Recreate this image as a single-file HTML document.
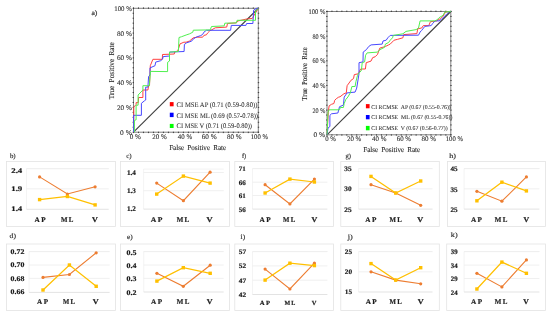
<!DOCTYPE html><html><head><meta charset="utf-8"><style>html,body{margin:0;padding:0;background:#fff;width:550px;height:315px;overflow:hidden}svg{display:block;will-change:transform;filter:blur(0.3px)}text{text-rendering:geometricPrecision}</style></head><body>
<svg width="550" height="315" viewBox="0 0 550 315" font-family='"Liberation Serif", serif' fill="#222">
<rect width="550" height="315" fill="#fff"/>
<rect x="6.4" y="161.4" width="109.00" height="65.00" fill="#fff" stroke="#e3e3e3" stroke-width="0.8"/>
<path d="M26.5,209.1V168.8H108.7" fill="none" stroke="#efefef" stroke-width="0.7"/>
<line x1="26.5" y1="168.6" x2="108.7" y2="168.6" stroke="#ececec" stroke-width="0.8"/>
<line x1="26.5" y1="188.8" x2="108.7" y2="188.8" stroke="#ececec" stroke-width="0.8"/>
<line x1="26.5" y1="209.3" x2="108.7" y2="209.3" stroke="#dcdcdc" stroke-width="0.8"/>
<text transform="translate(11.28,172.65) scale(0.1)" x="0" y="0" font-size="72.0" textLength="109.5" lengthAdjust="spacingAndGlyphs" font-weight="bold" fill="#1a1a1a" stroke="#1a1a1a" stroke-width="1.80">2.4</text>
<text transform="translate(11.28,191.45) scale(0.1)" x="0" y="0" font-size="72.0" textLength="109.5" lengthAdjust="spacingAndGlyphs" font-weight="bold" fill="#1a1a1a" stroke="#1a1a1a" stroke-width="1.80">1.9</text>
<text transform="translate(11.28,210.95) scale(0.1)" x="0" y="0" font-size="72.0" textLength="109.5" lengthAdjust="spacingAndGlyphs" font-weight="bold" fill="#1a1a1a" stroke="#1a1a1a" stroke-width="1.80">1.4</text>
<polyline points="39.6,176.9 67.4,194.0 95.1,186.8" fill="none" stroke="#ed7d31" stroke-width="1.1"/>
<polyline points="39.6,199.6 67.4,196.5 95.1,204.9" fill="none" stroke="#ffc000" stroke-width="1.25"/>
<circle cx="39.6" cy="176.9" r="1.6" fill="#ed7d31"/>
<circle cx="67.4" cy="194" r="1.6" fill="#ed7d31"/>
<circle cx="95.1" cy="186.8" r="1.6" fill="#ed7d31"/>
<rect x="37.9" y="197.9" width="3.4" height="3.4" fill="#ffc000"/>
<rect x="65.7" y="194.8" width="3.4" height="3.4" fill="#ffc000"/>
<rect x="93.4" y="203.2" width="3.4" height="3.4" fill="#ffc000"/>
<text transform="translate(34.48,222.20) scale(0.1)" x="0" y="0" font-size="72.0" textLength="111.5" lengthAdjust="spacingAndGlyphs" font-weight="bold" fill="#1a1a1a" stroke="#1a1a1a" stroke-width="1.80">A&#8201;P</text>
<text transform="translate(60.88,222.20) scale(0.1)" x="0" y="0" font-size="72.0" textLength="124.5" lengthAdjust="spacingAndGlyphs" font-weight="bold" fill="#1a1a1a" stroke="#1a1a1a" stroke-width="1.80">M&#8201;L</text>
<text transform="translate(92.08,222.20) scale(0.1)" x="0" y="0" font-size="72.0" textLength="57.5" lengthAdjust="spacingAndGlyphs" font-weight="bold" fill="#1a1a1a" stroke="#1a1a1a" stroke-width="1.80">V</text>
<text transform="translate(9.89,158.20) scale(0.1)" x="0" y="0" font-size="69.0" textLength="57.2" lengthAdjust="spacingAndGlyphs" fill="#333" stroke="#333" stroke-width="1.80">b)</text>
<rect x="120.4" y="161.4" width="109.10" height="65.00" fill="#fff" stroke="#e3e3e3" stroke-width="0.8"/>
<path d="M143.6,209.1V169.1H223.8" fill="none" stroke="#efefef" stroke-width="0.7"/>
<line x1="143.6" y1="172.5" x2="223.8" y2="172.5" stroke="#ececec" stroke-width="0.8"/>
<line x1="143.6" y1="190.7" x2="223.8" y2="190.7" stroke="#ececec" stroke-width="0.8"/>
<line x1="143.6" y1="209.1" x2="223.8" y2="209.1" stroke="#dcdcdc" stroke-width="0.8"/>
<text transform="translate(126.88,174.85) scale(0.1)" x="0" y="0" font-size="72.0" textLength="88.5" lengthAdjust="spacingAndGlyphs" font-weight="bold" fill="#1a1a1a" stroke="#1a1a1a" stroke-width="1.80">1.4</text>
<text transform="translate(126.88,193.45) scale(0.1)" x="0" y="0" font-size="72.0" textLength="88.5" lengthAdjust="spacingAndGlyphs" font-weight="bold" fill="#1a1a1a" stroke="#1a1a1a" stroke-width="1.80">1.3</text>
<text transform="translate(126.88,211.45) scale(0.1)" x="0" y="0" font-size="72.0" textLength="88.5" lengthAdjust="spacingAndGlyphs" font-weight="bold" fill="#1a1a1a" stroke="#1a1a1a" stroke-width="1.80">1.2</text>
<polyline points="156.7,183.1 183.4,200.7 210.1,172.2" fill="none" stroke="#ed7d31" stroke-width="1.1"/>
<polyline points="156.7,194.1 183.4,176.1 210.1,183.1" fill="none" stroke="#ffc000" stroke-width="1.25"/>
<circle cx="156.7" cy="183.1" r="1.6" fill="#ed7d31"/>
<circle cx="183.4" cy="200.7" r="1.6" fill="#ed7d31"/>
<circle cx="210.1" cy="172.2" r="1.6" fill="#ed7d31"/>
<rect x="155.0" y="192.4" width="3.4" height="3.4" fill="#ffc000"/>
<rect x="181.7" y="174.4" width="3.4" height="3.4" fill="#ffc000"/>
<rect x="208.4" y="181.4" width="3.4" height="3.4" fill="#ffc000"/>
<text transform="translate(150.78,222.20) scale(0.1)" x="0" y="0" font-size="72.0" textLength="117.5" lengthAdjust="spacingAndGlyphs" font-weight="bold" fill="#1a1a1a" stroke="#1a1a1a" stroke-width="1.80">A&#8201;P</text>
<text transform="translate(176.68,222.20) scale(0.1)" x="0" y="0" font-size="72.0" textLength="125.5" lengthAdjust="spacingAndGlyphs" font-weight="bold" fill="#1a1a1a" stroke="#1a1a1a" stroke-width="1.80">M&#8201;L</text>
<text transform="translate(206.48,222.20) scale(0.1)" x="0" y="0" font-size="72.0" textLength="60.5" lengthAdjust="spacingAndGlyphs" font-weight="bold" fill="#1a1a1a" stroke="#1a1a1a" stroke-width="1.80">V</text>
<text transform="translate(126.19,158.30) scale(0.1)" x="0" y="0" font-size="69.0" textLength="54.2" lengthAdjust="spacingAndGlyphs" fill="#333" stroke="#333" stroke-width="1.80">c)</text>
<rect x="234.8" y="161.4" width="98.60" height="65.00" fill="#fff" stroke="#e3e3e3" stroke-width="0.8"/>
<path d="M252.5,209.1V168.6H327.4" fill="none" stroke="#efefef" stroke-width="0.7"/>
<line x1="252.5" y1="168.6" x2="327.4" y2="168.6" stroke="#ececec" stroke-width="0.8"/>
<line x1="252.5" y1="182.2" x2="327.4" y2="182.2" stroke="#ececec" stroke-width="0.8"/>
<line x1="252.5" y1="195.5" x2="327.4" y2="195.5" stroke="#ececec" stroke-width="0.8"/>
<line x1="252.5" y1="209.1" x2="327.4" y2="209.1" stroke="#dcdcdc" stroke-width="0.8"/>
<text transform="translate(238.79,171.45) scale(0.1)" x="0" y="0" font-size="69.0" textLength="70.2" lengthAdjust="spacingAndGlyphs" font-weight="bold" fill="#1a1a1a" stroke="#1a1a1a" stroke-width="1.80">71</text>
<text transform="translate(238.79,185.05) scale(0.1)" x="0" y="0" font-size="69.0" textLength="70.2" lengthAdjust="spacingAndGlyphs" font-weight="bold" fill="#1a1a1a" stroke="#1a1a1a" stroke-width="1.80">66</text>
<text transform="translate(238.79,198.05) scale(0.1)" x="0" y="0" font-size="69.0" textLength="70.2" lengthAdjust="spacingAndGlyphs" font-weight="bold" fill="#1a1a1a" stroke="#1a1a1a" stroke-width="1.80">61</text>
<text transform="translate(238.79,211.55) scale(0.1)" x="0" y="0" font-size="69.0" textLength="70.2" lengthAdjust="spacingAndGlyphs" font-weight="bold" fill="#1a1a1a" stroke="#1a1a1a" stroke-width="1.80">56</text>
<polyline points="265.1,184.7 289.9,203.9 314.4,179.1" fill="none" stroke="#ed7d31" stroke-width="1.1"/>
<polyline points="265.1,193.0 289.9,179.1 314.4,182.0" fill="none" stroke="#ffc000" stroke-width="1.25"/>
<circle cx="265.1" cy="184.7" r="1.6" fill="#ed7d31"/>
<circle cx="289.9" cy="203.9" r="1.6" fill="#ed7d31"/>
<circle cx="314.4" cy="179.1" r="1.6" fill="#ed7d31"/>
<rect x="263.4" y="191.3" width="3.4" height="3.4" fill="#ffc000"/>
<rect x="288.2" y="177.4" width="3.4" height="3.4" fill="#ffc000"/>
<rect x="312.7" y="180.3" width="3.4" height="3.4" fill="#ffc000"/>
<text transform="translate(259.38,222.20) scale(0.1)" x="0" y="0" font-size="72.0" textLength="112.5" lengthAdjust="spacingAndGlyphs" font-weight="bold" fill="#1a1a1a" stroke="#1a1a1a" stroke-width="1.80">A&#8201;P</text>
<text transform="translate(283.08,222.20) scale(0.1)" x="0" y="0" font-size="72.0" textLength="122.5" lengthAdjust="spacingAndGlyphs" font-weight="bold" fill="#1a1a1a" stroke="#1a1a1a" stroke-width="1.80">M&#8201;L</text>
<text transform="translate(311.38,222.20) scale(0.1)" x="0" y="0" font-size="72.0" textLength="57.5" lengthAdjust="spacingAndGlyphs" font-weight="bold" fill="#1a1a1a" stroke="#1a1a1a" stroke-width="1.80">V</text>
<text transform="translate(241.89,158.30) scale(0.1)" x="0" y="0" font-size="69.0" textLength="41.2" lengthAdjust="spacingAndGlyphs" fill="#333" stroke="#333" stroke-width="1.80">f)</text>
<rect x="340.8" y="161.4" width="98.50" height="65.00" fill="#fff" stroke="#e3e3e3" stroke-width="0.8"/>
<path d="M358.6,209.1V168.6H432.5" fill="none" stroke="#efefef" stroke-width="0.7"/>
<line x1="358.6" y1="168.6" x2="432.5" y2="168.6" stroke="#ececec" stroke-width="0.8"/>
<line x1="358.6" y1="188.8" x2="432.5" y2="188.8" stroke="#ececec" stroke-width="0.8"/>
<line x1="358.6" y1="209.1" x2="432.5" y2="209.1" stroke="#dcdcdc" stroke-width="0.8"/>
<text transform="translate(344.29,171.05) scale(0.1)" x="0" y="0" font-size="69.0" textLength="73.2" lengthAdjust="spacingAndGlyphs" font-weight="bold" fill="#1a1a1a" stroke="#1a1a1a" stroke-width="1.80">35</text>
<text transform="translate(344.29,191.45) scale(0.1)" x="0" y="0" font-size="69.0" textLength="73.2" lengthAdjust="spacingAndGlyphs" font-weight="bold" fill="#1a1a1a" stroke="#1a1a1a" stroke-width="1.80">30</text>
<text transform="translate(344.29,211.55) scale(0.1)" x="0" y="0" font-size="69.0" textLength="73.2" lengthAdjust="spacingAndGlyphs" font-weight="bold" fill="#1a1a1a" stroke="#1a1a1a" stroke-width="1.80">25</text>
<polyline points="371.0,184.7 395.7,193.0 420.7,205.3" fill="none" stroke="#ed7d31" stroke-width="1.1"/>
<polyline points="371.0,176.4 395.7,193.0 420.7,181.0" fill="none" stroke="#ffc000" stroke-width="1.25"/>
<circle cx="371" cy="184.7" r="1.6" fill="#ed7d31"/>
<circle cx="395.7" cy="193" r="1.6" fill="#ed7d31"/>
<circle cx="420.7" cy="205.3" r="1.6" fill="#ed7d31"/>
<rect x="369.3" y="174.7" width="3.4" height="3.4" fill="#ffc000"/>
<rect x="394.0" y="191.3" width="3.4" height="3.4" fill="#ffc000"/>
<rect x="419.0" y="179.3" width="3.4" height="3.4" fill="#ffc000"/>
<text transform="translate(365.18,222.20) scale(0.1)" x="0" y="0" font-size="72.0" textLength="111.5" lengthAdjust="spacingAndGlyphs" font-weight="bold" fill="#1a1a1a" stroke="#1a1a1a" stroke-width="1.80">A&#8201;P</text>
<text transform="translate(389.48,222.20) scale(0.1)" x="0" y="0" font-size="72.0" textLength="123.5" lengthAdjust="spacingAndGlyphs" font-weight="bold" fill="#1a1a1a" stroke="#1a1a1a" stroke-width="1.80">M&#8201;L</text>
<text transform="translate(417.18,222.20) scale(0.1)" x="0" y="0" font-size="72.0" textLength="59.5" lengthAdjust="spacingAndGlyphs" font-weight="bold" fill="#1a1a1a" stroke="#1a1a1a" stroke-width="1.80">V</text>
<text transform="translate(345.39,158.00) scale(0.1)" x="0" y="0" font-size="69.0" textLength="54.2" lengthAdjust="spacingAndGlyphs" fill="#333" stroke="#333" stroke-width="1.80">g)</text>
<rect x="447.5" y="161.4" width="97.90" height="65.00" fill="#fff" stroke="#e3e3e3" stroke-width="0.8"/>
<path d="M464.1,209.1V168.6H539.4" fill="none" stroke="#efefef" stroke-width="0.7"/>
<line x1="464.1" y1="168.6" x2="539.4" y2="168.6" stroke="#ececec" stroke-width="0.8"/>
<line x1="464.1" y1="188.8" x2="539.4" y2="188.8" stroke="#ececec" stroke-width="0.8"/>
<line x1="464.1" y1="209.1" x2="539.4" y2="209.1" stroke="#dcdcdc" stroke-width="0.8"/>
<text transform="translate(450.49,171.25) scale(0.1)" x="0" y="0" font-size="69.0" textLength="72.2" lengthAdjust="spacingAndGlyphs" font-weight="bold" fill="#1a1a1a" stroke="#1a1a1a" stroke-width="1.80">45</text>
<text transform="translate(450.49,191.65) scale(0.1)" x="0" y="0" font-size="69.0" textLength="72.2" lengthAdjust="spacingAndGlyphs" font-weight="bold" fill="#1a1a1a" stroke="#1a1a1a" stroke-width="1.80">35</text>
<text transform="translate(450.49,211.75) scale(0.1)" x="0" y="0" font-size="69.0" textLength="72.2" lengthAdjust="spacingAndGlyphs" font-weight="bold" fill="#1a1a1a" stroke="#1a1a1a" stroke-width="1.80">25</text>
<polyline points="476.9,191.3 501.9,201.2 526.4,176.9" fill="none" stroke="#ed7d31" stroke-width="1.1"/>
<polyline points="476.9,200.8 501.9,182.2 526.4,190.9" fill="none" stroke="#ffc000" stroke-width="1.25"/>
<circle cx="476.9" cy="191.3" r="1.6" fill="#ed7d31"/>
<circle cx="501.9" cy="201.2" r="1.6" fill="#ed7d31"/>
<circle cx="526.4" cy="176.9" r="1.6" fill="#ed7d31"/>
<rect x="475.2" y="199.1" width="3.4" height="3.4" fill="#ffc000"/>
<rect x="500.2" y="180.5" width="3.4" height="3.4" fill="#ffc000"/>
<rect x="524.7" y="189.2" width="3.4" height="3.4" fill="#ffc000"/>
<text transform="translate(470.88,222.20) scale(0.1)" x="0" y="0" font-size="72.0" textLength="111.5" lengthAdjust="spacingAndGlyphs" font-weight="bold" fill="#1a1a1a" stroke="#1a1a1a" stroke-width="1.80">A&#8201;P</text>
<text transform="translate(494.78,222.20) scale(0.1)" x="0" y="0" font-size="72.0" textLength="125.5" lengthAdjust="spacingAndGlyphs" font-weight="bold" fill="#1a1a1a" stroke="#1a1a1a" stroke-width="1.80">M&#8201;L</text>
<text transform="translate(523.38,222.20) scale(0.1)" x="0" y="0" font-size="72.0" textLength="56.5" lengthAdjust="spacingAndGlyphs" font-weight="bold" fill="#1a1a1a" stroke="#1a1a1a" stroke-width="1.80">V</text>
<text transform="translate(449.19,157.80) scale(0.1)" x="0" y="0" font-size="69.0" textLength="68.2" lengthAdjust="spacingAndGlyphs" fill="#333" stroke="#333" stroke-width="1.80">h)</text>
<rect x="6.4" y="244" width="109.00" height="66.40" fill="#fff" stroke="#e3e3e3" stroke-width="0.8"/>
<path d="M29.1,292.4V251.6H109.6" fill="none" stroke="#efefef" stroke-width="0.7"/>
<line x1="29.1" y1="251.6" x2="109.6" y2="251.6" stroke="#ececec" stroke-width="0.8"/>
<line x1="29.1" y1="265" x2="109.6" y2="265" stroke="#ececec" stroke-width="0.8"/>
<line x1="29.1" y1="278.4" x2="109.6" y2="278.4" stroke="#ececec" stroke-width="0.8"/>
<line x1="29.1" y1="292.4" x2="109.6" y2="292.4" stroke="#dcdcdc" stroke-width="0.8"/>
<text transform="translate(10.58,254.35) scale(0.1)" x="0" y="0" font-size="72.0" textLength="137.5" lengthAdjust="spacingAndGlyphs" font-weight="bold" fill="#1a1a1a" stroke="#1a1a1a" stroke-width="1.80">0.72</text>
<text transform="translate(10.58,267.35) scale(0.1)" x="0" y="0" font-size="72.0" textLength="137.5" lengthAdjust="spacingAndGlyphs" font-weight="bold" fill="#1a1a1a" stroke="#1a1a1a" stroke-width="1.80">0.70</text>
<text transform="translate(10.58,280.95) scale(0.1)" x="0" y="0" font-size="72.0" textLength="137.5" lengthAdjust="spacingAndGlyphs" font-weight="bold" fill="#1a1a1a" stroke="#1a1a1a" stroke-width="1.80">0.68</text>
<text transform="translate(10.58,294.35) scale(0.1)" x="0" y="0" font-size="72.0" textLength="137.5" lengthAdjust="spacingAndGlyphs" font-weight="bold" fill="#1a1a1a" stroke="#1a1a1a" stroke-width="1.80">0.66</text>
<polyline points="43.0,277.4 69.4,274.5 96.2,252.8" fill="none" stroke="#ed7d31" stroke-width="1.1"/>
<polyline points="43.0,290.0 69.4,265.0 96.2,286.3" fill="none" stroke="#ffc000" stroke-width="1.25"/>
<circle cx="43" cy="277.4" r="1.6" fill="#ed7d31"/>
<circle cx="69.4" cy="274.5" r="1.6" fill="#ed7d31"/>
<circle cx="96.2" cy="252.8" r="1.6" fill="#ed7d31"/>
<rect x="41.3" y="288.3" width="3.4" height="3.4" fill="#ffc000"/>
<rect x="67.7" y="263.3" width="3.4" height="3.4" fill="#ffc000"/>
<rect x="94.5" y="284.6" width="3.4" height="3.4" fill="#ffc000"/>
<text transform="translate(37.08,304.20) scale(0.1)" x="0" y="0" font-size="72.0" textLength="109.5" lengthAdjust="spacingAndGlyphs" font-weight="bold" fill="#1a1a1a" stroke="#1a1a1a" stroke-width="1.80">A&#8201;P</text>
<text transform="translate(62.88,304.20) scale(0.1)" x="0" y="0" font-size="72.0" textLength="119.5" lengthAdjust="spacingAndGlyphs" font-weight="bold" fill="#1a1a1a" stroke="#1a1a1a" stroke-width="1.80">M&#8201;L</text>
<text transform="translate(92.78,304.20) scale(0.1)" x="0" y="0" font-size="72.0" textLength="58.5" lengthAdjust="spacingAndGlyphs" font-weight="bold" fill="#1a1a1a" stroke="#1a1a1a" stroke-width="1.80">V</text>
<text transform="translate(9.59,237.80) scale(0.1)" x="0" y="0" font-size="69.0" textLength="64.2" lengthAdjust="spacingAndGlyphs" fill="#333" stroke="#333" stroke-width="1.80">d)</text>
<rect x="120.4" y="244" width="109.10" height="66.40" fill="#fff" stroke="#e3e3e3" stroke-width="0.8"/>
<path d="M143.7,292V251.6H223.6" fill="none" stroke="#efefef" stroke-width="0.7"/>
<line x1="143.7" y1="251.6" x2="223.6" y2="251.6" stroke="#ececec" stroke-width="0.8"/>
<line x1="143.7" y1="265" x2="223.6" y2="265" stroke="#ececec" stroke-width="0.8"/>
<line x1="143.7" y1="278.4" x2="223.6" y2="278.4" stroke="#ececec" stroke-width="0.8"/>
<line x1="143.7" y1="292" x2="223.6" y2="292" stroke="#dcdcdc" stroke-width="0.8"/>
<text transform="translate(126.58,254.55) scale(0.1)" x="0" y="0" font-size="72.0" textLength="99.5" lengthAdjust="spacingAndGlyphs" font-weight="bold" fill="#1a1a1a" stroke="#1a1a1a" stroke-width="1.80">0.5</text>
<text transform="translate(126.58,267.75) scale(0.1)" x="0" y="0" font-size="72.0" textLength="99.5" lengthAdjust="spacingAndGlyphs" font-weight="bold" fill="#1a1a1a" stroke="#1a1a1a" stroke-width="1.80">0.4</text>
<text transform="translate(126.58,281.15) scale(0.1)" x="0" y="0" font-size="72.0" textLength="99.5" lengthAdjust="spacingAndGlyphs" font-weight="bold" fill="#1a1a1a" stroke="#1a1a1a" stroke-width="1.80">0.3</text>
<text transform="translate(126.58,294.85) scale(0.1)" x="0" y="0" font-size="72.0" textLength="99.5" lengthAdjust="spacingAndGlyphs" font-weight="bold" fill="#1a1a1a" stroke="#1a1a1a" stroke-width="1.80">0.2</text>
<polyline points="156.9,273.3 183.3,286.3 210.2,265.2" fill="none" stroke="#ed7d31" stroke-width="1.1"/>
<polyline points="156.9,281.1 183.3,267.7 210.2,273.3" fill="none" stroke="#ffc000" stroke-width="1.25"/>
<circle cx="156.9" cy="273.3" r="1.6" fill="#ed7d31"/>
<circle cx="183.3" cy="286.3" r="1.6" fill="#ed7d31"/>
<circle cx="210.2" cy="265.2" r="1.6" fill="#ed7d31"/>
<rect x="155.2" y="279.4" width="3.4" height="3.4" fill="#ffc000"/>
<rect x="181.6" y="266.0" width="3.4" height="3.4" fill="#ffc000"/>
<rect x="208.5" y="271.6" width="3.4" height="3.4" fill="#ffc000"/>
<text transform="translate(150.98,304.20) scale(0.1)" x="0" y="0" font-size="72.0" textLength="110.5" lengthAdjust="spacingAndGlyphs" font-weight="bold" fill="#1a1a1a" stroke="#1a1a1a" stroke-width="1.80">A&#8201;P</text>
<text transform="translate(176.78,304.20) scale(0.1)" x="0" y="0" font-size="72.0" textLength="126.5" lengthAdjust="spacingAndGlyphs" font-weight="bold" fill="#1a1a1a" stroke="#1a1a1a" stroke-width="1.80">M&#8201;L</text>
<text transform="translate(206.78,304.20) scale(0.1)" x="0" y="0" font-size="72.0" textLength="57.5" lengthAdjust="spacingAndGlyphs" font-weight="bold" fill="#1a1a1a" stroke="#1a1a1a" stroke-width="1.80">V</text>
<text transform="translate(126.99,238.60) scale(0.1)" x="0" y="0" font-size="69.0" textLength="57.2" lengthAdjust="spacingAndGlyphs" fill="#333" stroke="#333" stroke-width="1.80">e)</text>
<rect x="234.8" y="244" width="98.60" height="66.40" fill="#fff" stroke="#e3e3e3" stroke-width="0.8"/>
<path d="M252.5,294.5V251.6H327.4" fill="none" stroke="#efefef" stroke-width="0.7"/>
<line x1="252.5" y1="251.6" x2="327.4" y2="251.6" stroke="#ececec" stroke-width="0.8"/>
<line x1="252.5" y1="265.9" x2="327.4" y2="265.9" stroke="#ececec" stroke-width="0.8"/>
<line x1="252.5" y1="280.2" x2="327.4" y2="280.2" stroke="#ececec" stroke-width="0.8"/>
<line x1="252.5" y1="294.5" x2="327.4" y2="294.5" stroke="#dcdcdc" stroke-width="0.8"/>
<text transform="translate(238.79,253.75) scale(0.1)" x="0" y="0" font-size="69.0" textLength="73.2" lengthAdjust="spacingAndGlyphs" font-weight="bold" fill="#1a1a1a" stroke="#1a1a1a" stroke-width="1.80">57</text>
<text transform="translate(238.79,268.25) scale(0.1)" x="0" y="0" font-size="69.0" textLength="73.2" lengthAdjust="spacingAndGlyphs" font-weight="bold" fill="#1a1a1a" stroke="#1a1a1a" stroke-width="1.80">52</text>
<text transform="translate(238.79,282.65) scale(0.1)" x="0" y="0" font-size="69.0" textLength="73.2" lengthAdjust="spacingAndGlyphs" font-weight="bold" fill="#1a1a1a" stroke="#1a1a1a" stroke-width="1.80">47</text>
<text transform="translate(238.79,296.65) scale(0.1)" x="0" y="0" font-size="69.0" textLength="73.2" lengthAdjust="spacingAndGlyphs" font-weight="bold" fill="#1a1a1a" stroke="#1a1a1a" stroke-width="1.80">42</text>
<polyline points="265.1,269.1 289.9,289.0 314.4,263.2" fill="none" stroke="#ed7d31" stroke-width="1.1"/>
<polyline points="265.1,280.1 289.9,263.2 314.4,265.6" fill="none" stroke="#ffc000" stroke-width="1.25"/>
<circle cx="265.1" cy="269.1" r="1.6" fill="#ed7d31"/>
<circle cx="289.9" cy="289" r="1.6" fill="#ed7d31"/>
<circle cx="314.4" cy="263.2" r="1.6" fill="#ed7d31"/>
<rect x="263.4" y="278.4" width="3.4" height="3.4" fill="#ffc000"/>
<rect x="288.2" y="261.5" width="3.4" height="3.4" fill="#ffc000"/>
<rect x="312.7" y="263.9" width="3.4" height="3.4" fill="#ffc000"/>
<text transform="translate(259.72,305.20) scale(0.1)" x="0" y="0" font-size="63.0" textLength="102.7" lengthAdjust="spacingAndGlyphs" font-weight="bold" fill="#1a1a1a" stroke="#1a1a1a" stroke-width="1.80">A&#8201;P</text>
<text transform="translate(284.42,305.20) scale(0.1)" x="0" y="0" font-size="63.0" textLength="108.7" lengthAdjust="spacingAndGlyphs" font-weight="bold" fill="#1a1a1a" stroke="#1a1a1a" stroke-width="1.80">M&#8201;L</text>
<text transform="translate(311.72,305.20) scale(0.1)" x="0" y="0" font-size="63.0" textLength="46.7" lengthAdjust="spacingAndGlyphs" font-weight="bold" fill="#1a1a1a" stroke="#1a1a1a" stroke-width="1.80">V</text>
<text transform="translate(240.59,238.80) scale(0.1)" x="0" y="0" font-size="69.0" textLength="46.2" lengthAdjust="spacingAndGlyphs" fill="#333" stroke="#333" stroke-width="1.80">i)</text>
<rect x="340.8" y="244" width="98.50" height="66.40" fill="#fff" stroke="#e3e3e3" stroke-width="0.8"/>
<path d="M358.6,292V251.6H432.5" fill="none" stroke="#efefef" stroke-width="0.7"/>
<line x1="358.6" y1="251.6" x2="432.5" y2="251.6" stroke="#ececec" stroke-width="0.8"/>
<line x1="358.6" y1="271.8" x2="432.5" y2="271.8" stroke="#ececec" stroke-width="0.8"/>
<line x1="358.6" y1="292" x2="432.5" y2="292" stroke="#dcdcdc" stroke-width="0.8"/>
<text transform="translate(344.79,253.75) scale(0.1)" x="0" y="0" font-size="69.0" textLength="73.2" lengthAdjust="spacingAndGlyphs" font-weight="bold" fill="#1a1a1a" stroke="#1a1a1a" stroke-width="1.80">25</text>
<text transform="translate(344.79,273.75) scale(0.1)" x="0" y="0" font-size="69.0" textLength="73.2" lengthAdjust="spacingAndGlyphs" font-weight="bold" fill="#1a1a1a" stroke="#1a1a1a" stroke-width="1.80">20</text>
<text transform="translate(344.79,294.45) scale(0.1)" x="0" y="0" font-size="69.0" textLength="73.2" lengthAdjust="spacingAndGlyphs" font-weight="bold" fill="#1a1a1a" stroke="#1a1a1a" stroke-width="1.80">15</text>
<polyline points="371.0,271.8 395.7,280.1 420.7,283.8" fill="none" stroke="#ed7d31" stroke-width="1.1"/>
<polyline points="371.0,263.6 395.7,280.1 420.7,267.7" fill="none" stroke="#ffc000" stroke-width="1.25"/>
<circle cx="371" cy="271.8" r="1.6" fill="#ed7d31"/>
<circle cx="395.7" cy="280.1" r="1.6" fill="#ed7d31"/>
<circle cx="420.7" cy="283.8" r="1.6" fill="#ed7d31"/>
<rect x="369.3" y="261.9" width="3.4" height="3.4" fill="#ffc000"/>
<rect x="394.0" y="278.4" width="3.4" height="3.4" fill="#ffc000"/>
<rect x="419.0" y="266.0" width="3.4" height="3.4" fill="#ffc000"/>
<text transform="translate(365.68,304.20) scale(0.1)" x="0" y="0" font-size="72.0" textLength="110.5" lengthAdjust="spacingAndGlyphs" font-weight="bold" fill="#1a1a1a" stroke="#1a1a1a" stroke-width="1.80">A&#8201;P</text>
<text transform="translate(389.48,304.20) scale(0.1)" x="0" y="0" font-size="72.0" textLength="123.5" lengthAdjust="spacingAndGlyphs" font-weight="bold" fill="#1a1a1a" stroke="#1a1a1a" stroke-width="1.80">M&#8201;L</text>
<text transform="translate(417.68,304.20) scale(0.1)" x="0" y="0" font-size="72.0" textLength="58.5" lengthAdjust="spacingAndGlyphs" font-weight="bold" fill="#1a1a1a" stroke="#1a1a1a" stroke-width="1.80">V</text>
<text transform="translate(347.69,238.60) scale(0.1)" x="0" y="0" font-size="69.0" textLength="50.2" lengthAdjust="spacingAndGlyphs" fill="#333" stroke="#333" stroke-width="1.80">j)</text>
<rect x="446.7" y="244" width="98.70" height="66.40" fill="#fff" stroke="#e3e3e3" stroke-width="0.8"/>
<path d="M464.1,292V251.6H539.4" fill="none" stroke="#efefef" stroke-width="0.7"/>
<line x1="464.1" y1="251.6" x2="539.4" y2="251.6" stroke="#ececec" stroke-width="0.8"/>
<line x1="464.1" y1="265.1" x2="539.4" y2="265.1" stroke="#ececec" stroke-width="0.8"/>
<line x1="464.1" y1="278.5" x2="539.4" y2="278.5" stroke="#ececec" stroke-width="0.8"/>
<line x1="464.1" y1="292" x2="539.4" y2="292" stroke="#dcdcdc" stroke-width="0.8"/>
<text transform="translate(450.79,253.75) scale(0.1)" x="0" y="0" font-size="69.0" textLength="68.2" lengthAdjust="spacingAndGlyphs" font-weight="bold" fill="#1a1a1a" stroke="#1a1a1a" stroke-width="1.80">39</text>
<text transform="translate(450.79,267.75) scale(0.1)" x="0" y="0" font-size="69.0" textLength="68.2" lengthAdjust="spacingAndGlyphs" font-weight="bold" fill="#1a1a1a" stroke="#1a1a1a" stroke-width="1.80">34</text>
<text transform="translate(450.79,281.15) scale(0.1)" x="0" y="0" font-size="69.0" textLength="68.2" lengthAdjust="spacingAndGlyphs" font-weight="bold" fill="#1a1a1a" stroke="#1a1a1a" stroke-width="1.80">29</text>
<text transform="translate(450.79,294.85) scale(0.1)" x="0" y="0" font-size="69.0" textLength="68.2" lengthAdjust="spacingAndGlyphs" font-weight="bold" fill="#1a1a1a" stroke="#1a1a1a" stroke-width="1.80">24</text>
<polyline points="476.9,273.3 501.9,286.9 526.4,259.9" fill="none" stroke="#ed7d31" stroke-width="1.1"/>
<polyline points="476.9,289.0 501.9,262.1 526.4,273.3" fill="none" stroke="#ffc000" stroke-width="1.25"/>
<circle cx="476.9" cy="273.3" r="1.6" fill="#ed7d31"/>
<circle cx="501.9" cy="286.9" r="1.6" fill="#ed7d31"/>
<circle cx="526.4" cy="259.9" r="1.6" fill="#ed7d31"/>
<rect x="475.2" y="287.3" width="3.4" height="3.4" fill="#ffc000"/>
<rect x="500.2" y="260.4" width="3.4" height="3.4" fill="#ffc000"/>
<rect x="524.7" y="271.6" width="3.4" height="3.4" fill="#ffc000"/>
<text transform="translate(470.98,304.20) scale(0.1)" x="0" y="0" font-size="72.0" textLength="110.5" lengthAdjust="spacingAndGlyphs" font-weight="bold" fill="#1a1a1a" stroke="#1a1a1a" stroke-width="1.80">A&#8201;P</text>
<text transform="translate(494.78,304.20) scale(0.1)" x="0" y="0" font-size="72.0" textLength="125.5" lengthAdjust="spacingAndGlyphs" font-weight="bold" fill="#1a1a1a" stroke="#1a1a1a" stroke-width="1.80">M&#8201;L</text>
<text transform="translate(523.28,304.20) scale(0.1)" x="0" y="0" font-size="72.0" textLength="55.5" lengthAdjust="spacingAndGlyphs" font-weight="bold" fill="#1a1a1a" stroke="#1a1a1a" stroke-width="1.80">V</text>
<text transform="translate(450.79,237.00) scale(0.1)" x="0" y="0" font-size="69.0" textLength="68.2" lengthAdjust="spacingAndGlyphs" fill="#333" stroke="#333" stroke-width="1.80">k)</text>
<rect x="133.5" y="8.3" width="124.80" height="123.90" fill="none" stroke="#808080" stroke-width="1"/>
<path d="M133.50,7.40v1.4M133.50,131.70v1.4M132.60,132.20h1.4M257.80,132.20h1.4M138.49,7.40v1.4M138.49,131.70v1.4M132.60,127.24h1.4M257.80,127.24h1.4M143.48,7.40v1.4M143.48,131.70v1.4M132.60,122.29h1.4M257.80,122.29h1.4M148.48,7.40v1.4M148.48,131.70v1.4M132.60,117.33h1.4M257.80,117.33h1.4M153.47,7.40v1.4M153.47,131.70v1.4M132.60,112.38h1.4M257.80,112.38h1.4M158.46,7.40v1.4M158.46,131.70v1.4M132.60,107.42h1.4M257.80,107.42h1.4M163.45,7.40v1.4M163.45,131.70v1.4M132.60,102.46h1.4M257.80,102.46h1.4M168.44,7.40v1.4M168.44,131.70v1.4M132.60,97.51h1.4M257.80,97.51h1.4M173.44,7.40v1.4M173.44,131.70v1.4M132.60,92.55h1.4M257.80,92.55h1.4M178.43,7.40v1.4M178.43,131.70v1.4M132.60,87.60h1.4M257.80,87.60h1.4M183.42,7.40v1.4M183.42,131.70v1.4M132.60,82.64h1.4M257.80,82.64h1.4M188.41,7.40v1.4M188.41,131.70v1.4M132.60,77.68h1.4M257.80,77.68h1.4M193.40,7.40v1.4M193.40,131.70v1.4M132.60,72.73h1.4M257.80,72.73h1.4M198.40,7.40v1.4M198.40,131.70v1.4M132.60,67.77h1.4M257.80,67.77h1.4M203.39,7.40v1.4M203.39,131.70v1.4M132.60,62.82h1.4M257.80,62.82h1.4M208.38,7.40v1.4M208.38,131.70v1.4M132.60,57.86h1.4M257.80,57.86h1.4M213.37,7.40v1.4M213.37,131.70v1.4M132.60,52.90h1.4M257.80,52.90h1.4M218.36,7.40v1.4M218.36,131.70v1.4M132.60,47.95h1.4M257.80,47.95h1.4M223.36,7.40v1.4M223.36,131.70v1.4M132.60,42.99h1.4M257.80,42.99h1.4M228.35,7.40v1.4M228.35,131.70v1.4M132.60,38.04h1.4M257.80,38.04h1.4M233.34,7.40v1.4M233.34,131.70v1.4M132.60,33.08h1.4M257.80,33.08h1.4M238.33,7.40v1.4M238.33,131.70v1.4M132.60,28.12h1.4M257.80,28.12h1.4M243.32,7.40v1.4M243.32,131.70v1.4M132.60,23.17h1.4M257.80,23.17h1.4M248.32,7.40v1.4M248.32,131.70v1.4M132.60,18.21h1.4M257.80,18.21h1.4M253.31,7.40v1.4M253.31,131.70v1.4M132.60,13.26h1.4M257.80,13.26h1.4M258.30,7.40v1.4M258.30,131.70v1.4M132.60,8.30h1.4M257.80,8.30h1.4" stroke="#333" stroke-width="0.9" fill="none"/>
<line x1="133.5" y1="132.2" x2="258.3" y2="8.3" stroke="#404040" stroke-width="1.15"/>
<polyline points="133.6,132.2 133.8,117.9 133.8,107.0 136.1,104.5 136.1,102.6 138.3,102.6 138.6,97.5 142.9,97.5 142.9,90.0 147.9,90.0 148.6,85.7 149.5,85.7 150.3,65.7 152.9,59.3 162.3,59.3 162.5,54.5 174.3,54.0 174.6,52.1 177.8,50.9 180.0,43.9 183.9,42.2 186.1,42.2 189.4,41.1 193.3,37.8 197.2,37.2 202.6,37.2 203.9,35.4 206.4,34.8 207.7,32.9 209.6,31.0 215.3,27.8 226.7,27.1 227.5,23.5 236.4,22.9 237.7,21.0 246.6,19.0 252.3,18.4 254.2,15.2 258.3,8.3" fill="none" stroke="#ff4040" stroke-width="1"/>
<polyline points="133.6,132.2 133.6,115.3 141.4,115.3 141.4,103.3 144.6,100.7 145.7,100.0 145.7,87.1 147.9,87.1 148.6,76.4 150.0,75.0 150.0,67.9 155.0,65.7 155.7,62.1 160.7,60.7 162.5,59.1 163.2,56.6 169.5,56.0 169.5,52.1 184.1,51.5 184.4,44.4 186.7,42.8 191.7,41.1 192.8,39.4 196.1,37.2 200.6,35.6 202.6,34.5 203.9,32.2 206.4,30.3 230.6,30.3 231.3,25.4 245.9,25.4 246.6,23.5 252.9,23.5 253.6,10.2 256.7,8.3 258.3,8.3" fill="none" stroke="#4848ff" stroke-width="1"/>
<polyline points="134.4,132.2 134.4,120.4 136.1,119.8 136.1,105.2 138.1,105.2 138.1,95.0 142.9,90.0 142.9,85.7 149.3,85.7 150.5,71.4 167.6,71.6 167.6,62.3 169.5,61.0 169.5,52.1 178.4,51.5 179.0,37.5 181.6,36.7 186.1,35.0 189.4,33.9 192.8,32.2 193.3,30.2 210.2,29.9 211.5,26.5 224.2,25.9 224.8,23.2 236.4,22.9 237.1,20.3 255.5,20.3 255.5,11.4 257.4,9.5 258.3,8.3" fill="none" stroke="#50f050" stroke-width="1"/>
<text transform="translate(120.08,134.70) scale(0.1)" x="0" y="0" font-size="70.0" textLength="118.3" lengthAdjust="spacingAndGlyphs" fill="#333" stroke="#333" stroke-width="1.20">0 %</text>
<text transform="translate(116.88,109.92) scale(0.1)" x="0" y="0" font-size="70.0" textLength="150.3" lengthAdjust="spacingAndGlyphs" fill="#333" stroke="#333" stroke-width="1.20">20 %</text>
<text transform="translate(116.88,85.14) scale(0.1)" x="0" y="0" font-size="70.0" textLength="150.3" lengthAdjust="spacingAndGlyphs" fill="#333" stroke="#333" stroke-width="1.20">40 %</text>
<text transform="translate(116.88,60.36) scale(0.1)" x="0" y="0" font-size="70.0" textLength="150.3" lengthAdjust="spacingAndGlyphs" fill="#333" stroke="#333" stroke-width="1.20">60 %</text>
<text transform="translate(116.88,35.58) scale(0.1)" x="0" y="0" font-size="70.0" textLength="150.3" lengthAdjust="spacingAndGlyphs" fill="#333" stroke="#333" stroke-width="1.20">80 %</text>
<text transform="translate(114.28,10.80) scale(0.1)" x="0" y="0" font-size="70.0" textLength="176.3" lengthAdjust="spacingAndGlyphs" fill="#333" stroke="#333" stroke-width="1.20">100 %</text>
<text transform="translate(129.78,139.30) scale(0.1)" x="0" y="0" font-size="70.0" textLength="112.3" lengthAdjust="spacingAndGlyphs" fill="#333" stroke="#333" stroke-width="1.20">0 %</text>
<text transform="translate(152.28,139.30) scale(0.1)" x="0" y="0" font-size="70.0" textLength="145.3" lengthAdjust="spacingAndGlyphs" fill="#333" stroke="#333" stroke-width="1.20">20 %</text>
<text transform="translate(177.78,139.30) scale(0.1)" x="0" y="0" font-size="70.0" textLength="144.3" lengthAdjust="spacingAndGlyphs" fill="#333" stroke="#333" stroke-width="1.20">40 %</text>
<text transform="translate(201.69,139.30) scale(0.1)" x="0" y="0" font-size="70.0" textLength="151.3" lengthAdjust="spacingAndGlyphs" fill="#333" stroke="#333" stroke-width="1.20">60 %</text>
<text transform="translate(226.99,139.30) scale(0.1)" x="0" y="0" font-size="70.0" textLength="146.3" lengthAdjust="spacingAndGlyphs" fill="#333" stroke="#333" stroke-width="1.20">80 %</text>
<text transform="translate(250.69,139.30) scale(0.1)" x="0" y="0" font-size="70.0" textLength="173.3" lengthAdjust="spacingAndGlyphs" fill="#333" stroke="#333" stroke-width="1.20">100 %</text>
<text transform="translate(169.16,149.90) scale(0.1)" x="0" y="0" font-size="76.0" textLength="569.8" lengthAdjust="spacingAndGlyphs" fill="#2a2a2a" stroke="#2a2a2a" stroke-width="1.20">False&#8201; Positive&#8201; Rate</text>
<text transform="translate(114.00,99.20) rotate(-90) scale(0.1)" x="0" y="0" fill="#2a2a2a" stroke="#2a2a2a" stroke-width="1.20" font-size="76.0" textLength="570.0" lengthAdjust="spacingAndGlyphs">True&#8201; Positive&#8201; Rate</text>
<rect x="169.8" y="102.1" width="3.80" height="4.20" fill="#ff0000"/>
<rect x="169.8" y="112.7" width="3.80" height="4.40" fill="#0000ff"/>
<rect x="169.8" y="123.9" width="3.80" height="4.10" fill="#00ff00"/>
<text transform="translate(176.59,106.70) scale(0.1)" x="0" y="0" font-size="70.0" textLength="808.3" lengthAdjust="spacingAndGlyphs" fill="#2a2a2a" stroke="#2a2a2a" stroke-width="0.60">CI MSE AP (0.71 (0.59-0.80))</text>
<text transform="translate(176.59,117.50) scale(0.1)" x="0" y="0" font-size="70.0" textLength="814.3" lengthAdjust="spacingAndGlyphs" fill="#2a2a2a" stroke="#2a2a2a" stroke-width="0.60">CI MSE ML (0.69 (0.57-0.78))</text>
<text transform="translate(176.59,127.80) scale(0.1)" x="0" y="0" font-size="70.0" textLength="754.3" lengthAdjust="spacingAndGlyphs" fill="#2a2a2a" stroke="#2a2a2a" stroke-width="0.60">CI MSE V (0.71 (0.59-0.80))</text>
<text transform="translate(91.39,15.00) scale(0.1)" x="0" y="0" font-size="68.0" textLength="60.1" lengthAdjust="spacingAndGlyphs" fill="#333" stroke="#333" stroke-width="1.80">a)</text>
<rect x="327" y="11.5" width="123.80" height="123.30" fill="none" stroke="#808080" stroke-width="1"/>
<path d="M327.00,10.60v1.4M327.00,134.30v1.4M326.10,134.80h1.4M450.30,134.80h1.4M331.95,10.60v1.4M331.95,134.30v1.4M326.10,129.87h1.4M450.30,129.87h1.4M336.90,10.60v1.4M336.90,134.30v1.4M326.10,124.94h1.4M450.30,124.94h1.4M341.86,10.60v1.4M341.86,134.30v1.4M326.10,120.00h1.4M450.30,120.00h1.4M346.81,10.60v1.4M346.81,134.30v1.4M326.10,115.07h1.4M450.30,115.07h1.4M351.76,10.60v1.4M351.76,134.30v1.4M326.10,110.14h1.4M450.30,110.14h1.4M356.71,10.60v1.4M356.71,134.30v1.4M326.10,105.21h1.4M450.30,105.21h1.4M361.66,10.60v1.4M361.66,134.30v1.4M326.10,100.28h1.4M450.30,100.28h1.4M366.62,10.60v1.4M366.62,134.30v1.4M326.10,95.34h1.4M450.30,95.34h1.4M371.57,10.60v1.4M371.57,134.30v1.4M326.10,90.41h1.4M450.30,90.41h1.4M376.52,10.60v1.4M376.52,134.30v1.4M326.10,85.48h1.4M450.30,85.48h1.4M381.47,10.60v1.4M381.47,134.30v1.4M326.10,80.55h1.4M450.30,80.55h1.4M386.42,10.60v1.4M386.42,134.30v1.4M326.10,75.62h1.4M450.30,75.62h1.4M391.38,10.60v1.4M391.38,134.30v1.4M326.10,70.68h1.4M450.30,70.68h1.4M396.33,10.60v1.4M396.33,134.30v1.4M326.10,65.75h1.4M450.30,65.75h1.4M401.28,10.60v1.4M401.28,134.30v1.4M326.10,60.82h1.4M450.30,60.82h1.4M406.23,10.60v1.4M406.23,134.30v1.4M326.10,55.89h1.4M450.30,55.89h1.4M411.18,10.60v1.4M411.18,134.30v1.4M326.10,50.96h1.4M450.30,50.96h1.4M416.14,10.60v1.4M416.14,134.30v1.4M326.10,46.02h1.4M450.30,46.02h1.4M421.09,10.60v1.4M421.09,134.30v1.4M326.10,41.09h1.4M450.30,41.09h1.4M426.04,10.60v1.4M426.04,134.30v1.4M326.10,36.16h1.4M450.30,36.16h1.4M430.99,10.60v1.4M430.99,134.30v1.4M326.10,31.23h1.4M450.30,31.23h1.4M435.94,10.60v1.4M435.94,134.30v1.4M326.10,26.30h1.4M450.30,26.30h1.4M440.90,10.60v1.4M440.90,134.30v1.4M326.10,21.36h1.4M450.30,21.36h1.4M445.85,10.60v1.4M445.85,134.30v1.4M326.10,16.43h1.4M450.30,16.43h1.4M450.80,10.60v1.4M450.80,134.30v1.4M326.10,11.50h1.4M450.30,11.50h1.4" stroke="#333" stroke-width="0.9" fill="none"/>
<line x1="327" y1="134.8" x2="450.8" y2="11.5" stroke="#404040" stroke-width="1.15"/>
<polyline points="327.0,134.8 328.3,112.2 329.1,105.9 331.5,104.3 333.9,103.5 334.7,100.3 336.3,98.7 338.7,97.1 340.0,96.8 344.0,93.7 346.3,92.9 347.1,85.7 351.1,80.2 353.5,78.6 354.3,74.6 358.3,73.8 360.6,69.0 365.4,69.0 366.2,62.7 371.0,61.1 372.7,57.6 375.1,56.8 377.5,54.4 379.8,48.1 385.4,46.5 388.6,44.9 390.2,44.1 394.1,40.2 397.3,39.4 402.9,37.8 403.7,34.6 416.9,33.6 417.7,28.8 421.7,28.0 423.3,25.6 428.8,25.6 430.4,21.7 436.7,20.9 439.1,19.3 440.7,18.5 443.1,16.1 445.5,12.1 450.8,11.5" fill="none" stroke="#ff4040" stroke-width="1"/>
<polyline points="327.0,134.8 328.0,128.1 329.9,126.5 329.9,115.4 331.5,113.8 337.9,113.0 339.5,106.7 343.4,105.1 344.2,97.1 347.1,92.9 355.1,92.1 356.7,88.1 359.0,73.8 359.0,62.7 363.0,61.9 363.2,52.1 366.3,49.7 368.7,46.5 371.1,44.9 382.2,44.1 383.0,41.0 386.2,40.2 387.8,37.8 390.2,35.4 418.5,35.2 420.1,32.0 421.7,30.4 424.8,26.4 431.2,25.6 432.8,23.3 435.2,20.9 439.1,20.9 441.5,19.3 443.9,16.9 447.1,13.7 449.4,11.5 450.8,11.5" fill="none" stroke="#4848ff" stroke-width="1"/>
<polyline points="327.0,134.8 328.0,112.2 329.1,109.8 339.5,109.8 340.3,107.5 343.4,107.5 344.2,103.5 345.8,99.5 347.9,97.0 350.3,92.9 351.9,86.5 355.1,86.5 355.9,81.7 357.5,75.4 358.3,73.8 361.4,70.6 362.2,62.7 364.6,61.9 365.6,55.2 367.1,52.9 377.5,52.1 379.8,49.7 384.6,47.3 385.4,44.1 388.6,42.5 390.2,40.2 392.5,37.8 393.3,35.4 402.9,33.8 406.0,31.4 416.1,29.6 418.5,28.0 420.1,20.9 434.4,20.9 436.7,20.1 439.1,17.7 443.1,15.3 444.7,12.1 450.8,11.5" fill="none" stroke="#50f050" stroke-width="1"/>
<text transform="translate(313.49,137.30) scale(0.1)" x="0" y="0" font-size="70.0" textLength="118.3" lengthAdjust="spacingAndGlyphs" fill="#333" stroke="#333" stroke-width="1.20">0 %</text>
<text transform="translate(312.49,112.64) scale(0.1)" x="0" y="0" font-size="70.0" textLength="128.3" lengthAdjust="spacingAndGlyphs" fill="#333" stroke="#333" stroke-width="1.20">20 %</text>
<text transform="translate(312.49,87.98) scale(0.1)" x="0" y="0" font-size="70.0" textLength="128.3" lengthAdjust="spacingAndGlyphs" fill="#333" stroke="#333" stroke-width="1.20">40 %</text>
<text transform="translate(312.49,63.32) scale(0.1)" x="0" y="0" font-size="70.0" textLength="128.3" lengthAdjust="spacingAndGlyphs" fill="#333" stroke="#333" stroke-width="1.20">60 %</text>
<text transform="translate(312.49,38.66) scale(0.1)" x="0" y="0" font-size="70.0" textLength="128.3" lengthAdjust="spacingAndGlyphs" fill="#333" stroke="#333" stroke-width="1.20">80 %</text>
<text transform="translate(308.49,14.00) scale(0.1)" x="0" y="0" font-size="70.0" textLength="168.3" lengthAdjust="spacingAndGlyphs" fill="#333" stroke="#333" stroke-width="1.20">100 %</text>
<text transform="translate(325.19,141.40) scale(0.1)" x="0" y="0" font-size="70.0" textLength="108.3" lengthAdjust="spacingAndGlyphs" fill="#333" stroke="#333" stroke-width="1.20">0 %</text>
<text transform="translate(346.99,141.40) scale(0.1)" x="0" y="0" font-size="70.0" textLength="143.3" lengthAdjust="spacingAndGlyphs" fill="#333" stroke="#333" stroke-width="1.20">20 %</text>
<text transform="translate(372.08,141.40) scale(0.1)" x="0" y="0" font-size="70.0" textLength="144.3" lengthAdjust="spacingAndGlyphs" fill="#333" stroke="#333" stroke-width="1.20">40 %</text>
<text transform="translate(396.69,141.40) scale(0.1)" x="0" y="0" font-size="70.0" textLength="144.3" lengthAdjust="spacingAndGlyphs" fill="#333" stroke="#333" stroke-width="1.20">60 %</text>
<text transform="translate(421.38,141.40) scale(0.1)" x="0" y="0" font-size="70.0" textLength="147.3" lengthAdjust="spacingAndGlyphs" fill="#333" stroke="#333" stroke-width="1.20">80 %</text>
<text transform="translate(445.69,141.40) scale(0.1)" x="0" y="0" font-size="70.0" textLength="173.3" lengthAdjust="spacingAndGlyphs" fill="#333" stroke="#333" stroke-width="1.20">100 %</text>
<text transform="translate(363.26,151.50) scale(0.1)" x="0" y="0" font-size="76.0" textLength="568.8" lengthAdjust="spacingAndGlyphs" fill="#2a2a2a" stroke="#2a2a2a" stroke-width="1.20">False&#8201; Positive&#8201; Rate</text>
<text transform="translate(307.40,100.80) rotate(-90) scale(0.1)" x="0" y="0" fill="#2a2a2a" stroke="#2a2a2a" stroke-width="1.20" font-size="76.0" textLength="535.0" lengthAdjust="spacingAndGlyphs">True&#8201; Positive&#8201; Rate</text>
<rect x="365.9" y="104.1" width="3.70" height="4.20" fill="#ff0000"/>
<rect x="365.9" y="115" width="3.70" height="4.30" fill="#0000ff"/>
<rect x="365.9" y="125.9" width="3.70" height="4.40" fill="#00ff00"/>
<text transform="translate(371.33,108.50) scale(0.1)" x="0" y="0" font-size="59.0" textLength="794.3" lengthAdjust="spacingAndGlyphs" fill="#2a2a2a" stroke="#2a2a2a" stroke-width="0.60">CI RCMSE&#160; AP (0.67 (0.55-0.76))</text>
<text transform="translate(371.33,119.00) scale(0.1)" x="0" y="0" font-size="59.0" textLength="810.3" lengthAdjust="spacingAndGlyphs" fill="#2a2a2a" stroke="#2a2a2a" stroke-width="0.60">CI RCMSE&#160; ML (0.67 (0.55-0.76))</text>
<text transform="translate(371.33,129.80) scale(0.1)" x="0" y="0" font-size="59.0" textLength="762.3" lengthAdjust="spacingAndGlyphs" fill="#2a2a2a" stroke="#2a2a2a" stroke-width="0.60">CI RCMSE&#160; V (0.67 (0.56-0.77))</text>
</svg></body></html>
